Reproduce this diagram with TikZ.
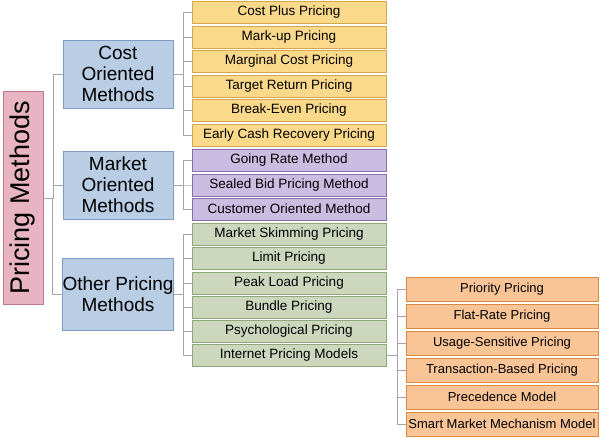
\documentclass[tikz,border=0pt]{standalone}
\usepackage{fontspec}
\setmainfont{Liberation Sans}
\begin{document}
\begin{tikzpicture}[x=1pt,y=-1pt,
    root/.style={rectangle, draw=pinkline, fill=pinkfill, minimum width=40pt, minimum height=213pt, inner sep=0pt},
    group/.style={rectangle, draw=blueline, fill=bluefill, minimum width=110pt, minimum height=68pt, align=center, font=\fontsize{19}{21}\selectfont, inner sep=0pt},
    leaf/.style={rectangle, draw=#1line, fill=#1fill, minimum width=194pt, minimum height=22pt, font=\fontsize{13.5}{15}\selectfont, inner sep=0pt},
    subleaf/.style={rectangle, draw=orangeline, fill=orangefill, minimum width=192pt, minimum height=24pt, font=\fontsize{13}{15}\selectfont, inner sep=0pt},
    link/.style={draw=gray!70}
]
\definecolor{pinkfill}{HTML}{E8B4C4}\definecolor{pinkline}{HTML}{C07890}
\definecolor{bluefill}{HTML}{B9CDE5}\definecolor{blueline}{HTML}{7C9CC4}
\definecolor{yellowfill}{HTML}{FBD98A}\definecolor{yellowline}{HTML}{D4A84A}
\definecolor{purplefill}{HTML}{CBBCE2}\definecolor{purpleline}{HTML}{8A6FB0}
\definecolor{greenfill}{HTML}{CCD7BE}\definecolor{greenline}{HTML}{8FA57A}
\definecolor{orangefill}{HTML}{F9C496}\definecolor{orangeline}{HTML}{D98A40}
\useasboundingbox (0,0) rectangle (600,437);

% Root
\node[root] (pricing) at (23,198) {\rotatebox{90}{\fontsize{27}{30}\selectfont Pricing Methods}};

% Groups
\node[group] (cost) at (118,74) {Cost\\Oriented\\Methods};
\node[group] (market) at (118,185) {Market\\Oriented\\Methods};
\node[group, minimum height=72pt] (other) at (118,294) {Other Pricing\\Methods};

% Leaves
\node[leaf=yellow] (costplus) at (289,12) {Cost Plus Pricing};
\node[leaf=yellow] (markup) at (289,37) {Mark-up Pricing};
\node[leaf=yellow] (marginal) at (289,61) {Marginal Cost Pricing};
\node[leaf=yellow] (target) at (289,86) {Target Return Pricing};
\node[leaf=yellow] (breakeven) at (289,110) {Break-Even Pricing};
\node[leaf=yellow] (earlycash) at (289,135) {Early Cash Recovery Pricing};

\node[leaf=purple] (goingrate) at (289,160) {Going Rate Method};
\node[leaf=purple] (sealedbid) at (289,185) {Sealed Bid Pricing Method};
\node[leaf=purple] (customer) at (289,209) {Customer Oriented Method};

\node[leaf=green] (skimming) at (289,234) {Market Skimming Pricing};
\node[leaf=green] (limit) at (289,258) {Limit Pricing};
\node[leaf=green] (peakload) at (289,283) {Peak Load Pricing};
\node[leaf=green] (bundle) at (289,307) {Bundle Pricing};
\node[leaf=green] (psycho) at (289,331) {Psychological Pricing};
\node[leaf=green] (internet) at (289,355) {Internet Pricing Models};

\node[subleaf] (priority) at (502,289) {Priority Pricing};
\node[subleaf] (flatrate) at (502,316) {Flat-Rate Pricing};
\node[subleaf] (usage) at (502,343) {Usage-Sensitive Pricing};
\node[subleaf] (transaction) at (502,370) {Transaction-Based Pricing};
\node[subleaf] (precedence) at (502,397) {Precedence Model};
\node[subleaf] (smartmarket) at (502,424) {Smart Market Mechanism Model};

% Connectors
\coordinate (rootbar) at (53,198);
\draw[link] (pricing.east) -- (rootbar);
\foreach \g in {cost,market,other}
  \draw[link] (\g.west) -- ++(-10,0) |- (rootbar);

\foreach \g/\list in {cost/{costplus,markup,marginal,target,breakeven,earlycash},
                      market/{goingrate,sealedbid,customer},
                      other/{skimming,limit,peakload,bundle,psycho,internet}} {
  \draw[link] (\g.east) -- ++(10,0) coordinate (bar);
  \foreach \l in \list
    \draw[link] (\l.west) -- ++(-9,0) |- (bar);
}

\draw[link] (internet.east) -- ++(11,0) coordinate (subbar);
\foreach \l in {priority,flatrate,usage,transaction,precedence,smartmarket}
  \draw[link] (\l.west) -- ++(-9,0) |- (subbar);
\end{tikzpicture}
\end{document}
